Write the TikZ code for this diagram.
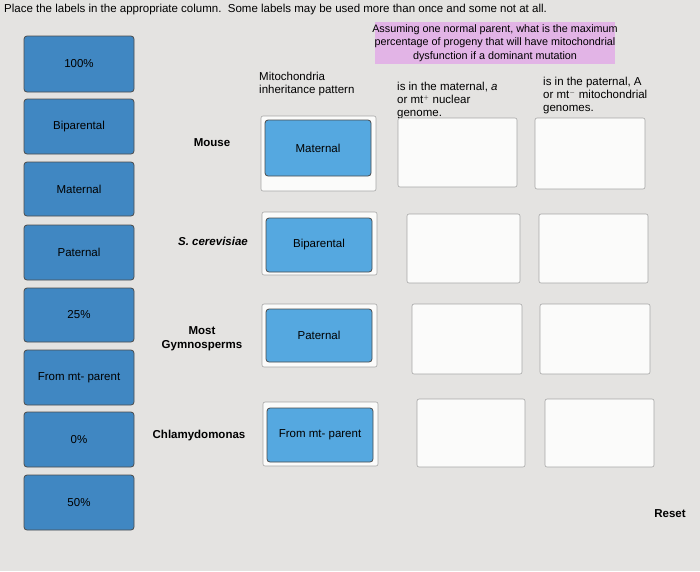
\documentclass[tikz,border=0pt]{standalone}
\usepackage{fontspec}
\setmainfont{Liberation Sans}
\definecolor{bg}{HTML}{E4E3E1}
\definecolor{btnL}{HTML}{4087C2}
\definecolor{btnM}{HTML}{55A8E0}
\definecolor{pinkh}{HTML}{E2B4E6}
\begin{document}
\begin{tikzpicture}[x=1pt,y=-1pt,
  lbtn/.style={draw=black!70,fill=btnL,rounded corners=3pt,line width=0.8pt},
  mbtn/.style={draw=black!70,fill=btnM,rounded corners=3pt,line width=0.8pt},
  slot/.style={draw=black!35,fill=white!85!bg,rounded corners=2pt,line width=0.6pt},
  txt/.style={font=\fontsize{11.5}{13}\selectfont,inner sep=0pt},
  rl/.style={font=\fontsize{11.5}{14}\selectfont\bfseries,inner sep=0pt,align=center}]
\fill[bg] (0,0) rectangle (700,571);
\useasboundingbox (0,0) rectangle (700,571);
\node[txt,anchor=west] (title) at (4,10) {Place the labels in the appropriate column.\ \ Some labels may be used more than once and some not at all.};
\fill[pinkh] (375,22) rectangle (615,64);
\node[txt,align=center,font=\fontsize{10.8}{13.5}\selectfont] (q) at (495,43) {Assuming one normal parent, what is the maximum\\percentage of progeny that will have mitochondrial\\dysfunction if a dominant mutation};
\node[txt,align=left,anchor=north west] (h1) at (259,72) {Mitochondria\\inheritance pattern};
\node[txt,align=left,anchor=north west] (h2) at (397,82) {is in the maternal, \textit{a}\\or mt$^{\scriptscriptstyle +}$ nuclear\\genome.};
\node[txt,align=left,anchor=north west] (h3) at (543,77) {is in the paternal, A\\or mt$^{\scriptscriptstyle -}$ mitochondrial\\genomes.};
% left buttons
\foreach \t/\a/\b [count=\i] in {100\%/36/92, Biparental/99/154, Maternal/162/216, Paternal/225/280, 25\%/288/342, From mt- parent/350/405, 0\%/412/467, 50\%/475/530}
  \draw[lbtn] (24,\a) rectangle (134,\b) node[txt,midway] (l\i) {\t};
% middle slots
\draw[slot] (261,116) rectangle (376,191);
\draw[slot] (262,212) rectangle (377,275);
\draw[slot] (262,304) rectangle (377,367);
\draw[slot] (263,402) rectangle (378,466);
\draw[mbtn] (265,120) rectangle (371,176) node[txt,midway] (m1) {Maternal};
\draw[mbtn] (266,218) rectangle (372,272) node[txt,midway] (m2) {Biparental};
\draw[mbtn] (266,309) rectangle (372,362) node[txt,midway] (m3) {Paternal};
\draw[mbtn] (267,408) rectangle (373,462) node[txt,midway] (m4) {From mt- parent};
% row labels
\node[rl] (r1) at (212,143) {Mouse};
\node[rl,font=\fontsize{11.5}{14}\selectfont\bfseries\itshape] (r2) at (213,241) {S. cerevisiae};
\node[rl] (r3) at (202,339) {Most\\Gymnosperms};
\node[rl] (r4) at (199,436) {Chlamydomonas};
% empty slots
\draw[slot] (398,118) rectangle (517,187);
\draw[slot] (407,214) rectangle (520,283);
\draw[slot] (412,304) rectangle (522,374);
\draw[slot] (417,399) rectangle (525,467);
\draw[slot] (535,118) rectangle (645,189);
\draw[slot] (539,214) rectangle (648,283);
\draw[slot] (540,304) rectangle (650,374);
\draw[slot] (545,399) rectangle (654,467);
\node[rl] (reset) at (670,514) {Reset};
\end{tikzpicture}
\end{document}
